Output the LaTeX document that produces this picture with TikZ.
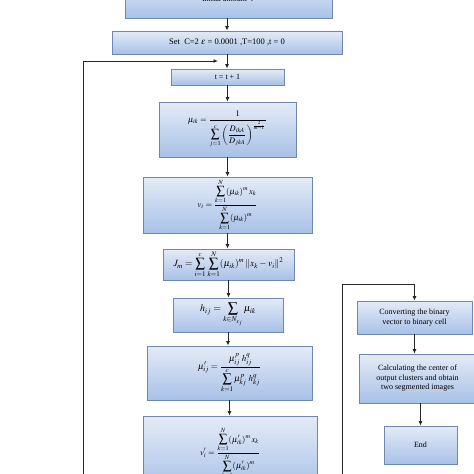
\documentclass[tikz,border=0pt]{standalone}
\usepackage{amsmath}
\usepackage{mathptmx}
\usepackage{fontspec}
\setmainfont{Liberation Serif}
\usetikzlibrary{arrows.meta,shadows,calc}
\definecolor{boxtop}{HTML}{E4EBF7}
\definecolor{boxbot}{HTML}{A8C1E7}
\definecolor{boxline}{HTML}{7088AE}
\tikzset{
  box/.style={draw=boxline, line width=0.8pt, top color=boxtop, bottom color=boxbot,
    rectangle, inner sep=1pt, align=center, font=\fontsize{8}{9.5}\selectfont,
    drop shadow={opacity=0.25, shadow xshift=1pt, shadow yshift=-1pt}},
  arr/.style={draw=black!85, line width=0.9pt, -{Latex[length=4.5pt,width=4pt]}},
  mathbox/.style={box, font=\fontsize{8.5}{9}\selectfont}
}
\newcommand{\dsty}{\displaystyle}
\begin{document}
\begin{tikzpicture}[x=1pt,y=-1pt]
\useasboundingbox (0,0) rectangle (474,474);
\node[box, minimum width=207pt, minimum height=38pt] (init) at (228.5,-1) {Initial amount V};
\node[box, minimum width=230pt, minimum height=23pt, font=\fontsize{8.5}{10}\selectfont] (set) at (227,42.5) {Set\ \ C=2 $\varepsilon$ = 0.0001 ,T=100 ,t = 0};
\node[box, minimum width=113pt, minimum height=16pt] (tt) at (227.5,77) {t = t + 1};
\node[mathbox, minimum width=137pt, minimum height=55pt] (mu) at (227.5,129.5)
  {$\dsty \mu_{ik}=\frac{1}{\dsty\sum_{j=1}^{c}\left(\frac{D_{ikA}}{D_{jkA}}\right)^{\frac{2}{m-1}}}$};
\node[mathbox, minimum width=169pt, minimum height=56pt] (v) at (227.5,205)
  {$\dsty v_i=\frac{\dsty\sum_{k=1}^{N}(\mu_{ik})^m\,x_k}{\dsty\sum_{k=1}^{N}(\mu_{ik})^m}$};
\node[mathbox, minimum width=131pt, minimum height=31pt, font=\fontsize{9.5}{10}\selectfont] (J) at (228.5,264.5)
  {$\dsty J_m=\sum_{i=1}^{c}\,\sum_{k=1}^{N}(\mu_{ik})^m\left\|x_k-v_i\right\|^2$};
\node[mathbox, minimum width=110pt, minimum height=34pt, font=\fontsize{10}{11}\selectfont] (h) at (228,315)
  {$\dsty h_{ij}=\sum_{k\in N_{x_j}}\mu_{ik}$};
\node[mathbox, minimum width=165pt, minimum height=54pt, font=\fontsize{9}{10}\selectfont] (mup) at (229.5,373)
  {$\dsty \mu'_{ij}=\frac{\mu_{ij}^{p}\;h_{ij}^{q}}{\dsty\sum_{k=1}^{c}\mu_{kj}^{p}\;h_{kj}^{q}}$};
\node[mathbox, minimum width=174pt, minimum height=74pt] (vp) at (230,453)
  {$\dsty v'_i=\frac{\dsty\sum_{k=1}^{N}(\mu'_{ik})^m\,x_k}{\dsty\sum_{k=1}^{N}(\mu'_{ik})^m}$};
\node[box, minimum width=115pt, minimum height=33pt] (conv) at (414.5,317.5)
  {Converting the binary\\vector to binary cell};
\node[box, minimum width=117pt, minimum height=49pt] (calc) at (417.5,378.5)
  {Calculating the center of\\output clusters and obtain\\two segmented images};
\node[box, minimum width=73pt, minimum height=38pt] (end) at (420.5,445) {End};
% main arrows
\draw[arr] (init.south -| set.north) -- (set.north);
\draw[arr] (set.south) -- (set.south |- tt.north);
\draw[arr] (tt.south) -- (tt.south |- mu.north);
\draw[arr] (mu.south) -- (mu.south |- v.north);
\draw[arr] (v.south) -- (v.south |- J.north);
\draw[arr] (J.south) -- (J.south |- h.north);
\draw[arr] (h.south) -- (h.south |- mup.north);
\draw[arr] (mup.south) -- (mup.south |- vp.north);
\draw[arr] (conv.south) -- (conv.south |- calc.north);
\draw[arr] (end.north |- calc.south) -- (end.north);
% loops
\coordinate (lb) at (83,480);
\coordinate (lt) at (218,61);
\draw[arr] (lb) |- (lt);
\coordinate (rb) at (342,480);
\draw[arr] (rb) |- ($(conv.north)+(0,-16)$) -- (conv.north);
\end{tikzpicture}
\end{document}
